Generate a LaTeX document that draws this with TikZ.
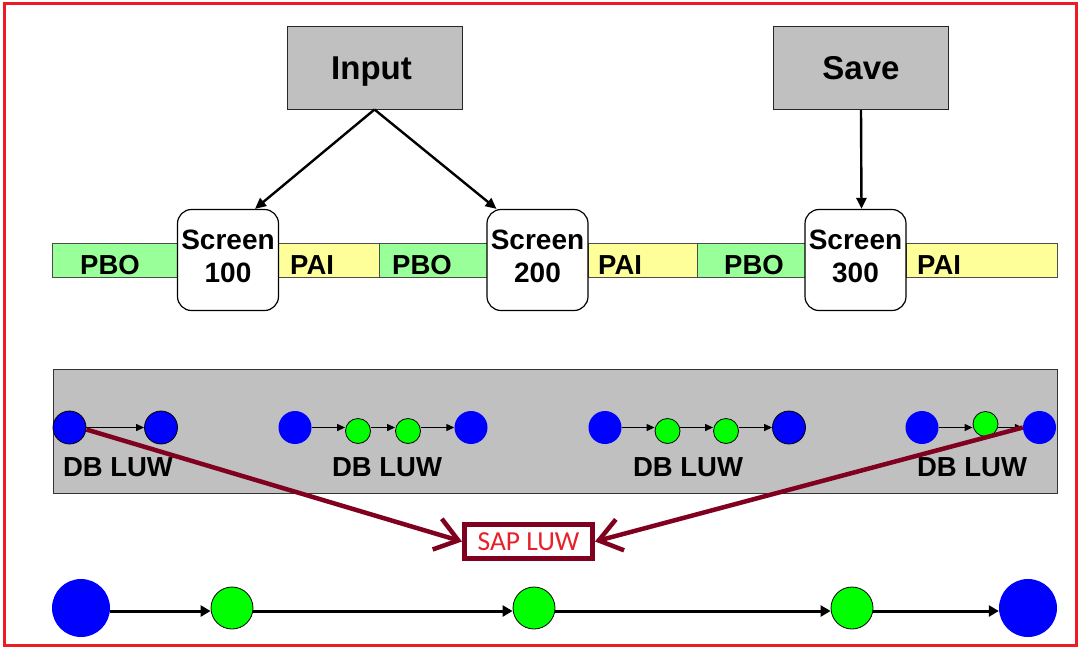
\documentclass[tikz,border=0pt]{standalone}
\usepackage{fontspec}
\setmainfont{Liberation Sans}
\newfontfamily\calibfont{Carlito}
\usetikzlibrary{arrows.meta}
\definecolor{framered}{HTML}{ED1C24}
\definecolor{boxgray}{HTML}{C0C0C0}
\definecolor{pbogreen}{HTML}{99FF99}
\definecolor{paiyellow}{HTML}{FFFF99}
\definecolor{luwred}{HTML}{800020}
\definecolor{txtred}{HTML}{E8202A}
\definecolor{dotblue}{HTML}{0000FF}
\definecolor{dotgreen}{HTML}{00FF00}
\begin{document}
\begin{tikzpicture}[x=1pt,y=-1pt,
  topbox/.style={draw=black!85, line width=1pt, fill=boxgray, minimum width=175pt, minimum height=83pt, inner sep=0pt, text height=23.5pt, text depth=0pt, font=\bfseries\fontsize{33}{36}\selectfont},
  screenbox/.style={draw=black, line width=1.2pt, fill=white, rounded corners=14pt, minimum width=101pt, minimum height=101pt, inner sep=0pt},
  screentxt/.style={inner sep=0pt, align=center, font=\bfseries\fontsize{28}{33}\selectfont},
  seg/.style={draw=black!70, line width=0.8pt, minimum height=34pt, inner sep=0pt},
  pbo/.style={seg, fill=pbogreen},
  pai/.style={seg, fill=paiyellow},
  seglbl/.style={anchor=west, inner sep=0pt, font=\bfseries\fontsize{27.5}{30}\selectfont},
  dblbl/.style={inner sep=0pt, font=\bfseries\fontsize{27.5}{30}\selectfont},
  bdot/.style={circle, fill=dotblue, minimum size=33pt, inner sep=0pt},
  bdoto/.style={bdot, draw=black, line width=0.8pt},
  gdot/.style={circle, fill=dotgreen, draw=black, line width=0.8pt, minimum size=25pt, inner sep=0pt},
  bigb/.style={circle, fill=dotblue, minimum size=58pt, inner sep=0pt},
  bigg/.style={circle, fill=dotgreen, draw=black, line width=0.8pt, minimum size=42pt, inner sep=0pt},
  toparrow/.style={draw=black, line width=2.4pt, -{Triangle[length=11pt,width=10pt]}},
  smallarrow/.style={draw=black, line width=1.2pt, -{Triangle[length=8pt,width=7pt]}},
  rowarrow/.style={draw=black, line width=3pt, -{Triangle[length=10pt,width=11pt]}},
  luwarrow/.style={draw=luwred, line width=4.5pt, -{Straight Barb[length=22pt,width=32pt]}},
]
\useasboundingbox (0,0) rectangle (1082,649);
\draw[framered, line width=3pt] (4.5,3.5) rectangle (1076.5,645);

% top boxes
\node[topbox] (in) at (374.5,67.5) {\hspace*{-6pt}Input};
\node[topbox] (sv) at (861,68) {Save};

% bar segments
\node[pbo, minimum width=125pt] (pbo1) at (114.5,260) {};
\node[pai, minimum width=101pt] (pai1) at (328.5,260) {};
\node[pbo, minimum width=108pt] (pbo2) at (433,260) {};
\node[pai, minimum width=109pt] (pai2) at (642.5,260) {};
\node[pbo, minimum width=108pt] (pbo3) at (751,260) {};
\node[pai, minimum width=151pt] (pai3) at (981.5,260) {};
\node[seglbl] (lpbo1) at (80,265) {PBO};
\node[seglbl] (lpai1) at (290,265) {PAI};
\node[seglbl] (lpbo2) at (392,265) {PBO};
\node[seglbl] (lpai2) at (598,265) {PAI};
\node[seglbl] (lpbo3) at (724,265) {PBO};
\node[seglbl] (lpai3) at (917,265) {PAI};

% screens
\node[screenbox] (s1) at (228,260) {};
\node[screenbox] (s2) at (537.5,260) {};
\node[screenbox] (s3) at (855.5,260) {};
\node[screentxt] (s1t) at (228,256.5) {Screen\\100};
\node[screentxt] (s2t) at (537.5,256.5) {Screen\\200};
\node[screentxt] (s3t) at (855.5,256.5) {Screen\\300};

\draw[toparrow] (in.south) -- ([xshift=27pt]s1.north);
\draw[toparrow] (in.south) -- ([xshift=-41pt]s2.north);
\draw[toparrow] (sv.south) -- ([xshift=6pt]s3.north);

% gray band
\node[draw=black!80, line width=1pt, fill=boxgray, minimum width=1004pt, minimum height=124pt, inner sep=0pt] (band) at (555,431.5) {};

\node[bdoto] (b11) at (69.5,427.5) {};
\node[bdoto] (b12) at (161,427.5) {};
\draw[smallarrow] (b11) -- (b12);

\node[bdot] (b21) at (295,427.5) {};
\node[gdot] (g21) at (358,431) {};
\node[gdot] (g22) at (408,431) {};
\node[bdot] (b22) at (471,427.5) {};
\draw[smallarrow] (b21.east) -- (g21.west |- b21.east);
\draw[smallarrow] (g21.east |- b21.east) -- (g22.west |- b21.east);
\draw[smallarrow] (g22.east |- b21.east) -- (b22.west);

\node[bdot] (b31) at (605,427.5) {};
\node[gdot] (g31) at (667.5,431) {};
\node[gdot] (g32) at (726,431) {};
\node[bdoto] (b32) at (789,427.5) {};
\draw[smallarrow] (b31.east) -- (g31.west |- b31.east);
\draw[smallarrow] (g31.east |- b31.east) -- (g32.west |- b31.east);
\draw[smallarrow] (g32.east |- b31.east) -- (b32.west);

\node[bdot] (b41) at (922,427.5) {};
\node[gdot] (g41) at (985.5,424) {};
\node[bdot] (b42) at (1039.5,427.5) {};
\draw[smallarrow] (b41.east) -- (g41.west |- b41.east);
\draw[smallarrow] (g41.east |- b41.east) -- (b42.west);

\node[dblbl] (d1) at (118,467) {DB LUW};
\node[dblbl] (d2) at (387,467) {DB LUW};
\node[dblbl] (d3) at (688,467) {DB LUW};
\node[dblbl] (d4) at (972,467) {DB LUW};

% SAP LUW
\node[draw=luwred, line width=5pt, fill=white, minimum width=128pt, minimum height=34pt, inner sep=0pt, text=txtred, font=\calibfont\fontsize{27.5}{28}\selectfont] (sap) at (528.5,541.5) {SAP LUW};
\draw[luwarrow] ([yshift=-2pt]b11.east) -- (sap.west);
\draw[luwarrow] (b42.west) -- (sap.east);

% bottom row
\node[bigb] (r1) at (81,608) {};
\node[bigg] (r2) at (232,608) {};
\node[bigg] (r3) at (534,608) {};
\node[bigg] (r4) at (852,608) {};
\node[bigb] (r5) at (1028,608) {};
\draw[rowarrow] ([yshift=-3pt]r1.east) -- ([yshift=-3pt]r2.west);
\draw[rowarrow] ([yshift=-3pt]r2.east) -- ([yshift=-3pt]r3.west);
\draw[rowarrow] ([yshift=-3pt]r3.east) -- ([yshift=-3pt]r4.west);
\draw[rowarrow] ([yshift=-3pt]r4.east) -- ([yshift=-3pt]r5.west);
\end{tikzpicture}
\end{document}
